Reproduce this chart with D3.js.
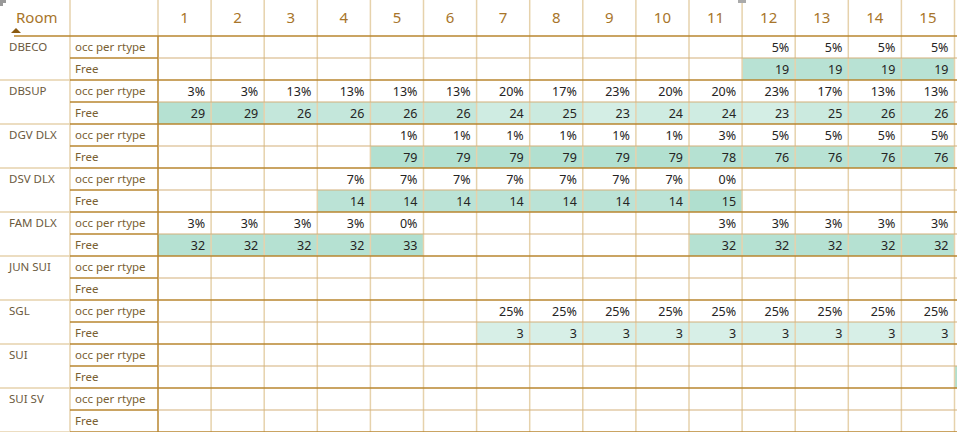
<!DOCTYPE html>
<html><head><meta charset="utf-8">
<script src="https://cdn.jsdelivr.net/npm/d3@7"></script>
<style>body{margin:0;background:#fff;}svg{display:block;font-family:"Noto Sans","Open Sans",sans-serif;}</style>
</head><body><div id="chart"></div>
<script>
"use strict";
const days = ["1","2","3","4","5","6","7","8","9","10","11","12","13","14","15","16"];
const rooms = ["DBECO","DBSUP","DGV DLX","DSV DLX","FAM DLX","JUN SUI","SGL","SUI","SUI SV"];
const measures = ["occ per rtype","Free"];
// null = empty cell
const occ = {
  "DBECO":   [null,null,null,null,null,null,null,null,null,null,null,5,5,5,5,null],
  "DBSUP":   [3,3,13,13,13,13,20,17,23,20,20,23,17,13,13,null],
  "DGV DLX": [null,null,null,null,1,1,1,1,1,1,3,5,5,5,5,null],
  "DSV DLX": [null,null,null,7,7,7,7,7,7,7,0,null,null,null,null,null],
  "FAM DLX": [3,3,3,3,0,null,null,null,null,null,3,3,3,3,3,null],
  "JUN SUI": [null,null,null,null,null,null,null,null,null,null,null,null,null,null,null,null],
  "SGL":     [null,null,null,null,null,null,25,25,25,25,25,25,25,25,25,null],
  "SUI":     [null,null,null,null,null,null,null,null,null,null,null,null,null,null,null,0],
  "SUI SV":  [null,null,null,null,null,null,null,null,null,null,null,null,null,null,null,null]
};
const free = {
  "DBECO":   [null,null,null,null,null,null,null,null,null,null,null,19,19,19,19,null],
  "DBSUP":   [29,29,26,26,26,26,24,25,23,24,24,23,25,26,26,null],
  "DGV DLX": [null,null,null,null,79,79,79,79,79,79,78,76,76,76,76,null],
  "DSV DLX": [null,null,null,14,14,14,14,14,14,14,15,null,null,null,null,null],
  "FAM DLX": [32,32,32,32,33,null,null,null,null,null,32,32,32,32,32,null],
  "JUN SUI": [null,null,null,null,null,null,null,null,null,null,null,null,null,null,null,null],
  "SGL":     [null,null,null,null,null,null,3,3,3,3,3,3,3,3,3,null],
  "SUI":     [null,null,null,null,null,null,null,null,null,null,null,null,null,null,null,null],
  "SUI SV":  [null,null,null,null,null,null,null,null,null,null,null,null,null,null,null,null]
};

const W = 957, H = 432, headerH = 36, rowH = 22;
const roomW = 70, labelW = 88, colW = 53.1;
const gold = "#b8862f", light = "#e6d2ac", mid = "#d4b07a";

const svg = d3.select("#chart").append("svg").attr("width", W).attr("height", H);

const x = d3.scaleBand().domain(days).range([roomW + labelW, roomW + labelW + colW * days.length]);
const rowKeys = [];
rooms.forEach(r => measures.forEach(m => rowKeys.push(r + "|" + m)));
const y = d3.scaleBand().domain(rowKeys).range([headerH, headerH + rowH * rowKeys.length]);
const fillScale = d3.scaleLinear().domain([0, 25]).range(["#b0dfcf", "#d7efe7"]);

// coloured cells for Free rows
const cells = [];
rooms.forEach(r => days.forEach((d, i) => {
  cells.push({room: r, day: d, m: "occ per rtype", v: occ[r][i], o: occ[r][i]});
  cells.push({room: r, day: d, m: "Free", v: free[r][i], o: occ[r][i]});
}));
svg.append("g").selectAll("rect")
  .data(cells.filter(c => c.m === "Free" && c.o !== null))
  .enter().append("rect")
  .attr("x", c => x(c.day)).attr("y", c => y(c.room + "|" + c.m))
  .attr("width", x.bandwidth()).attr("height", y.bandwidth())
  .attr("fill", c => fillScale(c.o));

// vertical grid lines
const grid = svg.append("g");
days.forEach(d => {
  grid.append("line").attr("x1", x(d) + colW).attr("x2", x(d) + colW)
    .attr("y1", 0).attr("y2", H).attr("stroke", light).attr("stroke-width", 1.5);
});
grid.append("line").attr("x1", roomW).attr("x2", roomW).attr("y1", 0).attr("y2", H)
  .attr("stroke", light).attr("stroke-width", 1.5);
grid.append("line").attr("x1", roomW + labelW).attr("x2", roomW + labelW).attr("y1", headerH).attr("y2", H)
  .attr("stroke", gold).attr("stroke-width", 1.5);
grid.append("line").attr("x1", roomW + labelW).attr("x2", roomW + labelW).attr("y1", 0).attr("y2", headerH)
  .attr("stroke", light).attr("stroke-width", 1.5);

// horizontal lines
grid.append("line").attr("x1", 14).attr("x2", W).attr("y1", headerH).attr("y2", headerH)
  .attr("stroke", gold).attr("stroke-width", 1.5);
rooms.forEach(r => {
  const yMid = y(r + "|Free");
  grid.append("line").attr("x1", roomW).attr("x2", roomW + labelW).attr("y1", yMid).attr("y2", yMid)
    .attr("stroke", gold).attr("stroke-width", 1.5);
  grid.append("line").attr("x1", roomW + labelW).attr("x2", W).attr("y1", yMid).attr("y2", yMid)
    .attr("stroke", mid).attr("stroke-width", 1.2);
  const yEnd = yMid + rowH;
  grid.append("line").attr("x1", 0).attr("x2", roomW).attr("y1", yEnd).attr("y2", yEnd)
    .attr("stroke", light).attr("stroke-width", 1.5);
  grid.append("line").attr("x1", roomW).attr("x2", W).attr("y1", yEnd).attr("y2", yEnd)
    .attr("stroke", gold).attr("stroke-width", 1.5);
});

// header
svg.append("text").attr("x", 16).attr("y", 23).text("Room")
  .attr("font-size", 15).attr("fill", "#a8752a");
svg.append("path").attr("d", "M11,33 L16,28 L21,33 Z").attr("fill", "#8a5a10");
svg.append("g").selectAll("text").data(days.slice(0, 15)).enter().append("text")
  .attr("x", d => x(d) + colW / 2).attr("y", 23).attr("text-anchor", "middle")
  .attr("font-size", 15).attr("fill", "#a8752a").text(d => d);
svg.append("rect").attr("x", 0).attr("y", 0).attr("width", 3).attr("height", 6).attr("fill", "#999");
svg.append("rect").attr("x", 0).attr("y", 0).attr("width", 6).attr("height", 3).attr("fill", "#999");
svg.append("rect").attr("x", 738).attr("y", 0).attr("width", 8).attr("height", 3).attr("fill", "#aaa");

// room and measure labels
svg.append("g").selectAll("text").data(rooms).enter().append("text")
  .attr("x", 9).attr("y", r => y(r + "|occ per rtype") + 15)
  .attr("font-size", 11.5).attr("fill", "#6b5a3e").text(r => r);
svg.append("g").selectAll("text").data(rowKeys).enter().append("text")
  .attr("x", roomW + 5).attr("y", k => y(k) + 15)
  .attr("font-size", 11.5).attr("fill", "#7a5f32").text(k => k.split("|")[1]);

// cell values
svg.append("g").selectAll("text")
  .data(cells.filter(c => c.v !== null && c.day !== "16")).enter().append("text")
  .attr("x", c => x(c.day) + colW - 6).attr("y", c => y(c.room + "|" + c.m) + 16)
  .attr("text-anchor", "end").attr("font-size", 12.5).attr("fill", "#252423")
  .text(c => c.m === "Free" ? c.v : c.v + "%");
</script></body></html>
